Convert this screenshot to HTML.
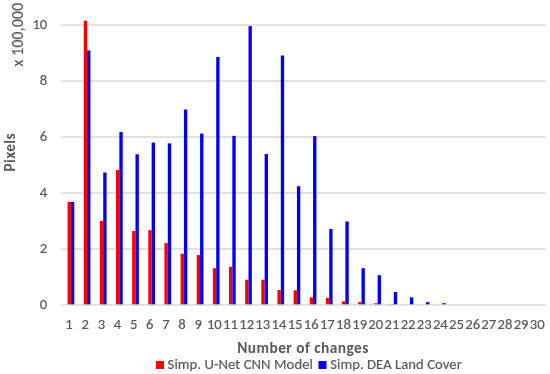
<!DOCTYPE html>
<html><head><meta charset="utf-8"><title>Number of changes</title><style>
html,body{margin:0;padding:0;background:#fff;overflow:hidden;}
svg{display:block;}
text{font-family:Carlito,"Liberation Sans",sans-serif;fill:#595959;stroke:#595959;stroke-width:0.18px;font-size-adjust:cap-height 0.6416;}
.t{font-size:14.67px;}
.b{font-weight:bold;stroke:none;font-size-adjust:cap-height 0.6484;}
</style></head><body>
<svg width="550" height="374" viewBox="0 0 550 374">
<rect width="550" height="374" fill="#fff"/>
<rect x="61.00" y="304.15" width="484.30" height="1.5" fill="#d9d9d9"/>
<rect x="61.00" y="248.17" width="484.30" height="1.5" fill="#d9d9d9"/>
<rect x="61.00" y="192.19" width="484.30" height="1.5" fill="#d9d9d9"/>
<rect x="61.00" y="136.21" width="484.30" height="1.5" fill="#d9d9d9"/>
<rect x="61.00" y="80.23" width="484.30" height="1.5" fill="#d9d9d9"/>
<rect x="61.00" y="24.25" width="484.30" height="1.5" fill="#d9d9d9"/>
<rect x="67.57" y="201.90" width="3.35" height="102.40" fill="#f00"/>
<rect x="70.92" y="201.90" width="3.35" height="102.40" fill="#00f"/>
<rect x="83.72" y="20.80" width="3.35" height="283.50" fill="#f00"/>
<rect x="87.06" y="50.47" width="3.35" height="253.83" fill="#00f"/>
<rect x="99.86" y="220.93" width="3.35" height="83.37" fill="#f00"/>
<rect x="103.21" y="172.51" width="3.35" height="131.79" fill="#00f"/>
<rect x="116.00" y="169.99" width="3.35" height="134.31" fill="#f00"/>
<rect x="119.35" y="132.06" width="3.35" height="172.24" fill="#00f"/>
<rect x="132.14" y="231.01" width="3.35" height="73.29" fill="#f00"/>
<rect x="135.49" y="154.31" width="3.35" height="149.99" fill="#00f"/>
<rect x="148.29" y="230.17" width="3.35" height="74.13" fill="#f00"/>
<rect x="151.64" y="142.56" width="3.35" height="161.74" fill="#00f"/>
<rect x="164.43" y="243.04" width="3.35" height="61.26" fill="#f00"/>
<rect x="167.78" y="143.40" width="3.35" height="160.90" fill="#00f"/>
<rect x="180.57" y="253.68" width="3.35" height="50.62" fill="#f00"/>
<rect x="183.92" y="109.53" width="3.35" height="194.77" fill="#00f"/>
<rect x="196.72" y="255.08" width="3.35" height="49.22" fill="#f00"/>
<rect x="200.07" y="133.60" width="3.35" height="170.70" fill="#00f"/>
<rect x="212.86" y="268.23" width="3.35" height="36.07" fill="#f00"/>
<rect x="216.21" y="56.91" width="3.35" height="247.39" fill="#00f"/>
<rect x="229.00" y="266.83" width="3.35" height="37.47" fill="#f00"/>
<rect x="232.35" y="135.84" width="3.35" height="168.46" fill="#00f"/>
<rect x="245.15" y="279.71" width="3.35" height="24.59" fill="#f00"/>
<rect x="248.50" y="26.12" width="3.35" height="278.18" fill="#00f"/>
<rect x="261.29" y="279.71" width="3.35" height="24.59" fill="#f00"/>
<rect x="264.64" y="154.03" width="3.35" height="150.27" fill="#00f"/>
<rect x="277.43" y="290.07" width="3.35" height="14.23" fill="#f00"/>
<rect x="280.78" y="55.51" width="3.35" height="248.79" fill="#00f"/>
<rect x="293.58" y="290.35" width="3.35" height="13.95" fill="#f00"/>
<rect x="296.93" y="186.22" width="3.35" height="118.08" fill="#00f"/>
<rect x="309.72" y="297.34" width="3.35" height="6.96" fill="#f00"/>
<rect x="313.07" y="136.12" width="3.35" height="168.18" fill="#00f"/>
<rect x="325.86" y="297.90" width="3.35" height="6.40" fill="#f00"/>
<rect x="329.21" y="229.05" width="3.35" height="75.25" fill="#00f"/>
<rect x="342.01" y="301.40" width="3.35" height="2.90" fill="#f00"/>
<rect x="345.36" y="221.49" width="3.35" height="82.81" fill="#00f"/>
<rect x="358.15" y="302.10" width="3.35" height="2.20" fill="#f00"/>
<rect x="361.50" y="268.23" width="3.35" height="36.07" fill="#00f"/>
<rect x="374.29" y="303.22" width="3.35" height="1.08" fill="#f00"/>
<rect x="377.64" y="275.23" width="3.35" height="29.07" fill="#00f"/>
<rect x="390.44" y="304.06" width="3.35" height="0.24" fill="#f00"/>
<rect x="393.79" y="292.02" width="3.35" height="12.28" fill="#00f"/>
<rect x="409.93" y="297.34" width="3.35" height="6.96" fill="#00f"/>
<rect x="426.07" y="302.10" width="3.35" height="2.20" fill="#00f"/>
<rect x="442.22" y="303.22" width="3.35" height="1.08" fill="#00f"/>
<text x="47.3" y="308.90" text-anchor="end" class="t">0</text>
<text x="47.3" y="252.92" text-anchor="end" class="t">2</text>
<text x="47.3" y="196.94" text-anchor="end" class="t">4</text>
<text x="47.3" y="140.96" text-anchor="end" class="t">6</text>
<text x="47.3" y="84.98" text-anchor="end" class="t">8</text>
<text x="47.3" y="29.00" text-anchor="end" class="t" textLength="14.88">10</text>
<text x="69.07" y="328.6" text-anchor="middle" class="t">1</text>
<text x="85.22" y="328.6" text-anchor="middle" class="t">2</text>
<text x="101.36" y="328.6" text-anchor="middle" class="t">3</text>
<text x="117.50" y="328.6" text-anchor="middle" class="t">4</text>
<text x="133.64" y="328.6" text-anchor="middle" class="t">5</text>
<text x="149.79" y="328.6" text-anchor="middle" class="t">6</text>
<text x="165.93" y="328.6" text-anchor="middle" class="t">7</text>
<text x="182.07" y="328.6" text-anchor="middle" class="t">8</text>
<text x="198.22" y="328.6" text-anchor="middle" class="t">9</text>
<text x="214.36" y="328.6" text-anchor="middle" class="t" textLength="14.88">10</text>
<text x="230.50" y="328.6" text-anchor="middle" class="t" textLength="14.88">11</text>
<text x="246.65" y="328.6" text-anchor="middle" class="t" textLength="14.88">12</text>
<text x="262.79" y="328.6" text-anchor="middle" class="t" textLength="14.88">13</text>
<text x="278.93" y="328.6" text-anchor="middle" class="t" textLength="14.88">14</text>
<text x="295.08" y="328.6" text-anchor="middle" class="t" textLength="14.88">15</text>
<text x="311.22" y="328.6" text-anchor="middle" class="t" textLength="14.88">16</text>
<text x="327.36" y="328.6" text-anchor="middle" class="t" textLength="14.88">17</text>
<text x="343.51" y="328.6" text-anchor="middle" class="t" textLength="14.88">18</text>
<text x="359.65" y="328.6" text-anchor="middle" class="t" textLength="14.88">19</text>
<text x="375.79" y="328.6" text-anchor="middle" class="t" textLength="14.88">20</text>
<text x="391.94" y="328.6" text-anchor="middle" class="t" textLength="14.88">21</text>
<text x="408.08" y="328.6" text-anchor="middle" class="t" textLength="14.88">22</text>
<text x="424.22" y="328.6" text-anchor="middle" class="t" textLength="14.88">23</text>
<text x="440.37" y="328.6" text-anchor="middle" class="t" textLength="14.88">24</text>
<text x="456.51" y="328.6" text-anchor="middle" class="t" textLength="14.88">25</text>
<text x="472.65" y="328.6" text-anchor="middle" class="t" textLength="14.88">26</text>
<text x="488.80" y="328.6" text-anchor="middle" class="t" textLength="14.88">27</text>
<text x="504.94" y="328.6" text-anchor="middle" class="t" textLength="14.88">28</text>
<text x="521.08" y="328.6" text-anchor="middle" class="t" textLength="14.88">29</text>
<text x="537.23" y="328.6" text-anchor="middle" class="t" textLength="14.88">30</text>
<text transform="translate(22.6,66.6) rotate(-90)" style="font-size:15.5px" textLength="63.7">x 100,000</text>
<text class="b" transform="translate(14.6,171.5) rotate(-90)" style="font-size:15.3px" textLength="38.0">Pixels</text>
<text class="b" x="237.2" y="352.7" style="font-size:15.4px" textLength="131.2">Number of changes</text>
<rect x="156" y="361" width="8" height="8" fill="#f00"/>
<text class="t" x="167.6" y="369.3" textLength="145.3">Simp. U-Net CNN Model</text>
<rect x="318.5" y="361" width="8" height="8" fill="#00f"/>
<text class="t" x="330.2" y="369.3" textLength="131.6">Simp. DEA Land Cover</text>
</svg>
</body></html>
